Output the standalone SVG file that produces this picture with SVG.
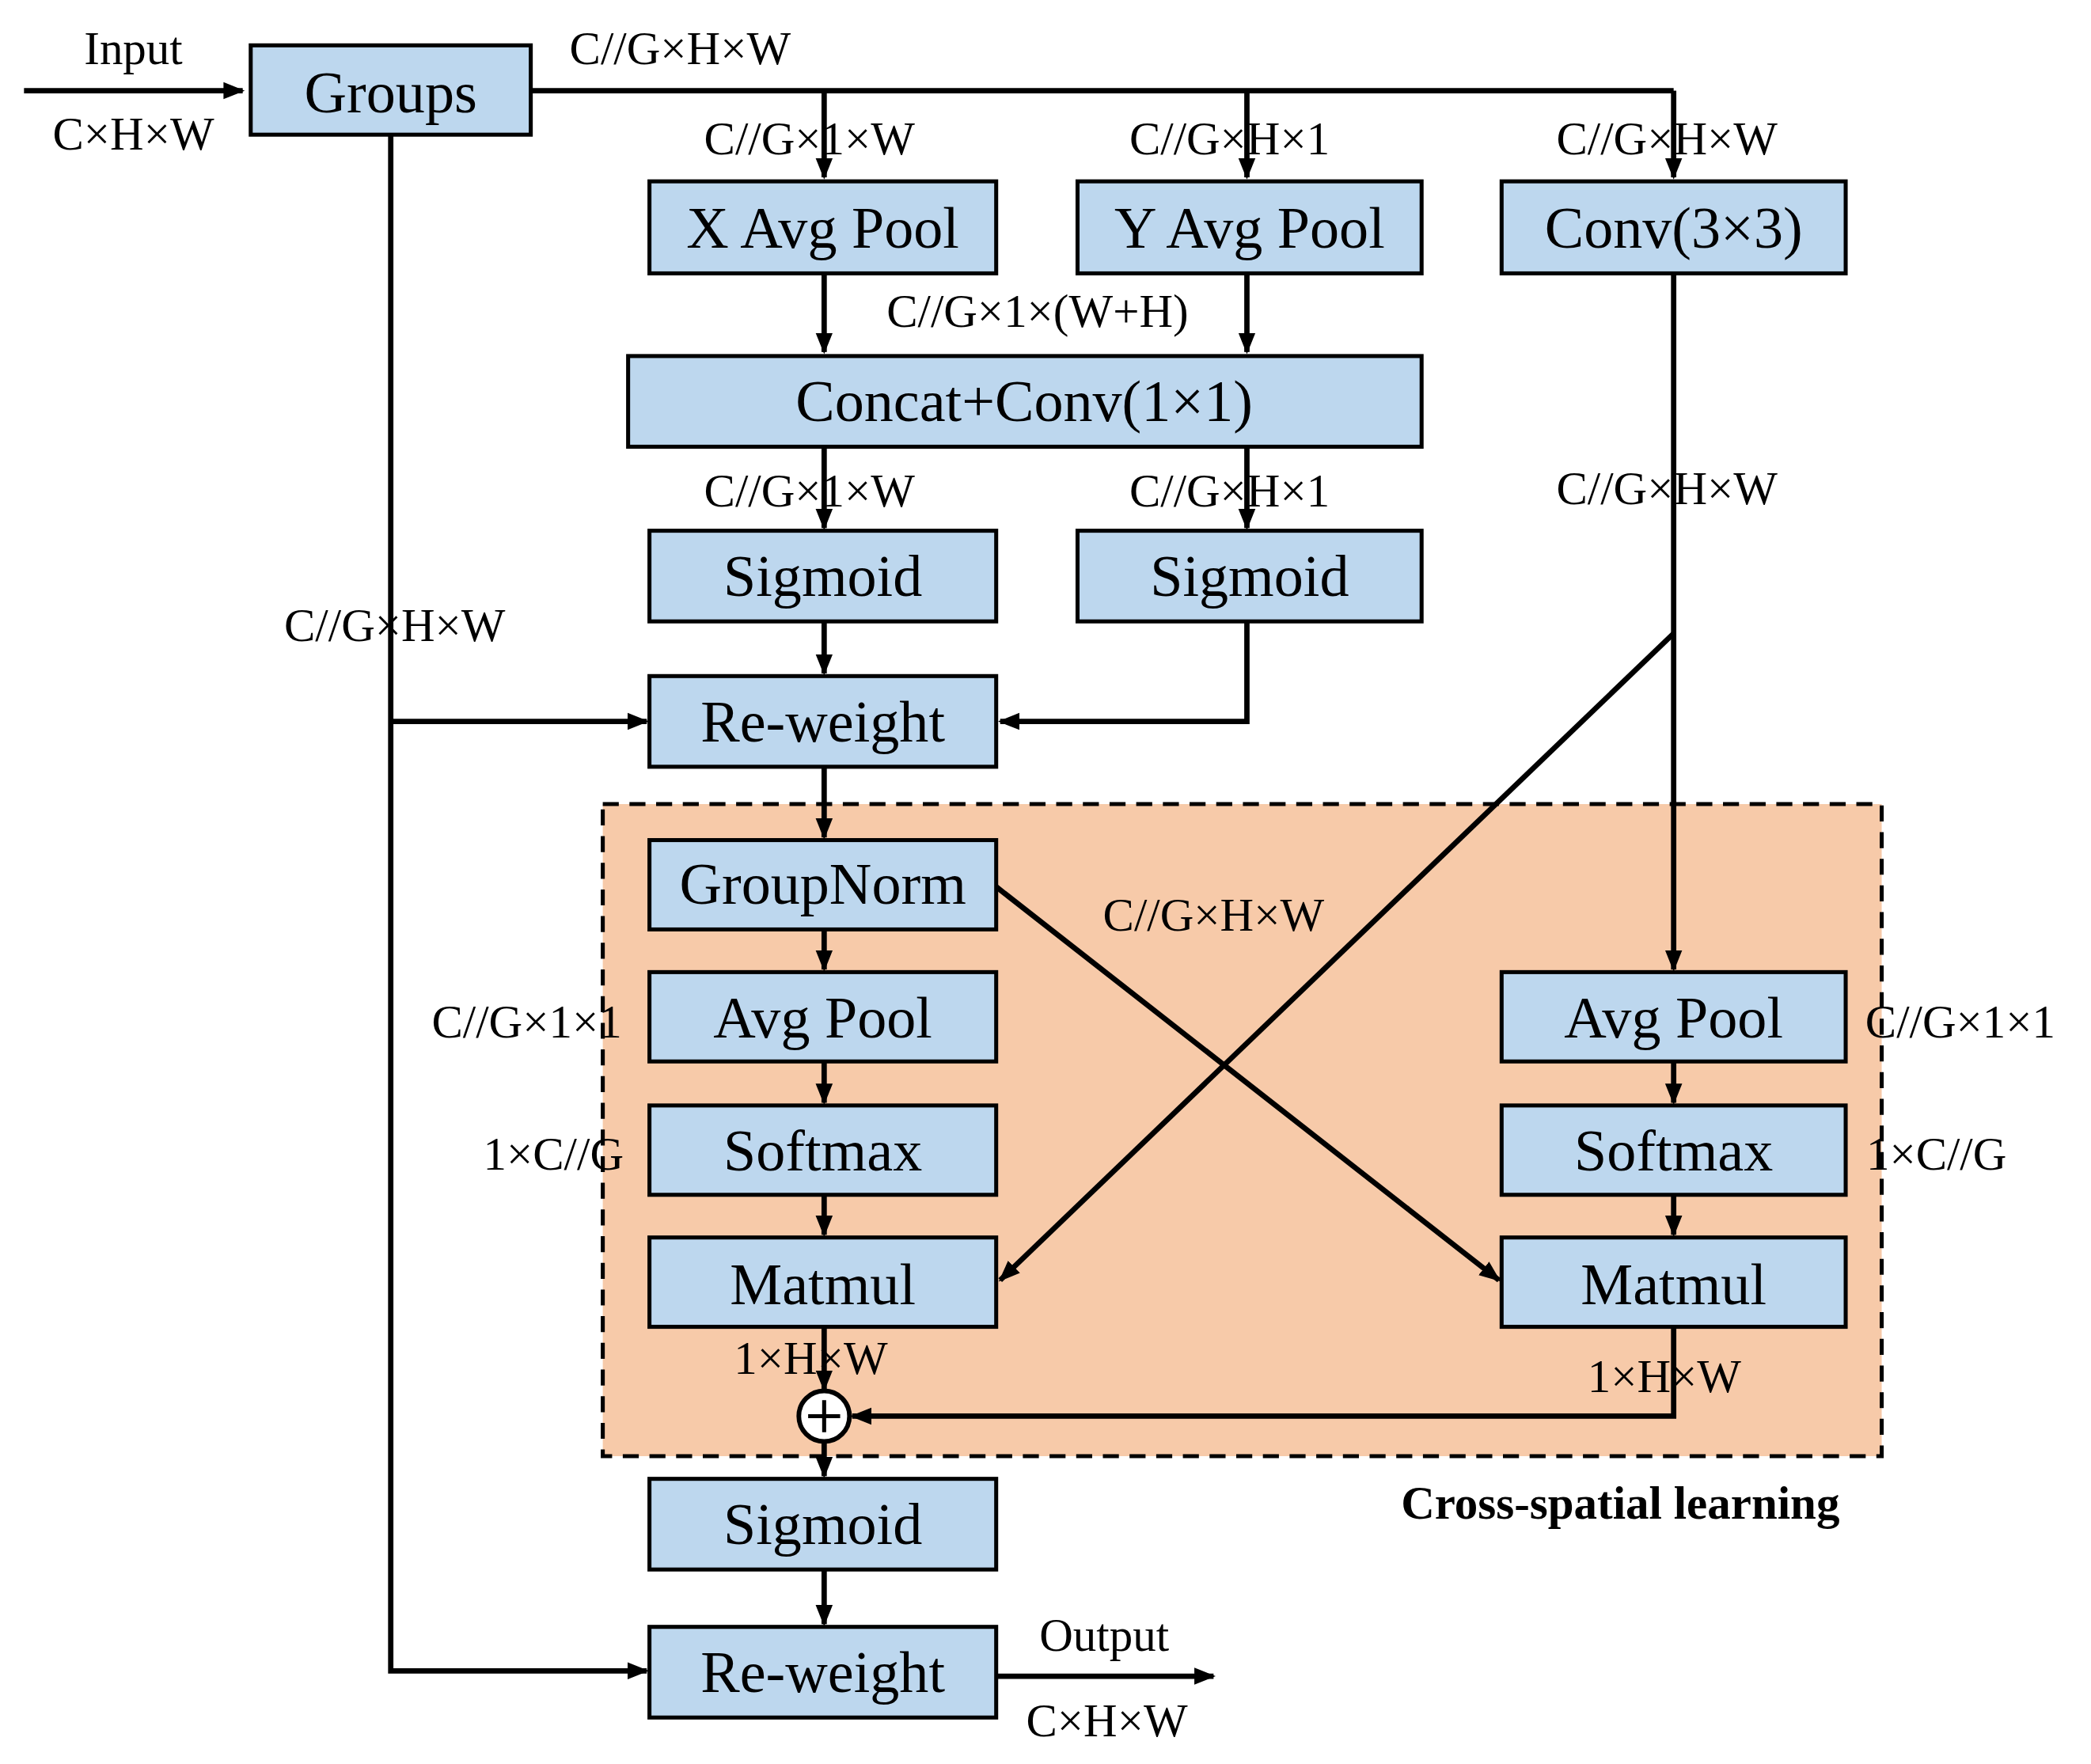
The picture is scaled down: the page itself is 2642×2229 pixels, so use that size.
<svg xmlns="http://www.w3.org/2000/svg" width="2642" height="2229" viewBox="0 0 2642 2229">
<style>
text{font-family:"Liberation Serif","Times New Roman",serif;text-anchor:middle;fill:#000}
.b{fill:#bdd7ee;stroke:#000;stroke-width:3}
.bt{font-size:44px}
.l{font-size:35px}
.c line,.c polyline,.c path{stroke:#000;stroke-width:4;fill:none}
</style>
<defs><marker id="a" viewBox="0 0 10 10" refX="9" refY="5" markerWidth="4" markerHeight="4" orient="auto" markerUnits="strokeWidth"><path d="M0,1L10,5L0,9z" fill="#000"/></marker></defs>
<rect width="2642" height="2229" fill="#fff"/>
<g transform="scale(1.685)">
<rect x="452" y="603" width="959" height="489" fill="#f7caa9" stroke="#000" stroke-width="3" stroke-dasharray="12,8"/>
<g class="c">
<line x1="18" y1="68" x2="182" y2="68" marker-end="url(#a)"/>
<polyline points="398,68 1255,68"/>
<line x1="618" y1="68" x2="618" y2="133" marker-end="url(#a)"/>
<line x1="935" y1="68" x2="935" y2="133" marker-end="url(#a)"/>
<line x1="1255" y1="68" x2="1255" y2="133" marker-end="url(#a)"/>
<line x1="618" y1="205" x2="618" y2="264" marker-end="url(#a)"/>
<line x1="935" y1="205" x2="935" y2="264" marker-end="url(#a)"/>
<line x1="618" y1="335" x2="618" y2="396" marker-end="url(#a)"/>
<line x1="935" y1="335" x2="935" y2="396" marker-end="url(#a)"/>
<line x1="1255" y1="205" x2="1255" y2="727" marker-end="url(#a)"/>
<line x1="1255" y1="475" x2="750" y2="960" marker-end="url(#a)"/>
<polyline points="293,101 293,1253 485,1253" marker-end="url(#a)"/>
<line x1="293" y1="541" x2="485" y2="541" marker-end="url(#a)"/>
<line x1="618" y1="466" x2="618" y2="505" marker-end="url(#a)"/>
<polyline points="935,466 935,541 750,541" marker-end="url(#a)"/>
<line x1="618" y1="575" x2="618" y2="628" marker-end="url(#a)"/>
<line x1="747" y1="665" x2="1124" y2="960" marker-end="url(#a)"/>
<line x1="618" y1="697" x2="618" y2="727" marker-end="url(#a)"/>
<line x1="618" y1="796" x2="618" y2="827" marker-end="url(#a)"/>
<line x1="618" y1="896" x2="618" y2="926" marker-end="url(#a)"/>
<line x1="1255" y1="796" x2="1255" y2="827" marker-end="url(#a)"/>
<line x1="1255" y1="896" x2="1255" y2="926" marker-end="url(#a)"/>
<line x1="618" y1="995" x2="618" y2="1042" marker-end="url(#a)"/>
<polyline points="1255,995 1255,1062 639,1062" marker-end="url(#a)"/>
<line x1="618" y1="1081" x2="618" y2="1107" marker-end="url(#a)"/>
<line x1="618" y1="1177" x2="618" y2="1218" marker-end="url(#a)"/>
<line x1="747" y1="1257" x2="910" y2="1257" marker-end="url(#a)"/>
</g>
<g id="plus"><circle cx="618" cy="1062" r="19" fill="#fff" stroke="#000" stroke-width="3.5"/><path d="M606,1062H630M618,1050V1074" stroke="#000" stroke-width="3"/></g>
<g id="groups"><rect class="b" x="188" y="34" width="210" height="67"/><text class="bt" x="293" y="84">Groups</text></g>
<g id="xavg"><rect class="b" x="487" y="136" width="260" height="69"/><text class="bt" x="617" y="186">X Avg Pool</text></g>
<g id="yavg"><rect class="b" x="808" y="136" width="258" height="69"/><text class="bt" x="937" y="186">Y Avg Pool</text></g>
<g id="conv"><rect class="b" x="1126" y="136" width="258" height="69"/><text class="bt" x="1255" y="186">Conv(3×3)</text></g>
<g id="concat"><rect class="b" x="471" y="267" width="595" height="68"/><text class="bt" x="768" y="316">Concat+Conv(1×1)</text></g>
<g id="sig1"><rect class="b" x="487" y="398" width="260" height="68"/><text class="bt" x="617" y="447">Sigmoid</text></g>
<g id="sig2"><rect class="b" x="808" y="398" width="258" height="68"/><text class="bt" x="937" y="447">Sigmoid</text></g>
<g id="rw1"><rect class="b" x="487" y="507" width="260" height="68"/><text class="bt" x="617" y="556">Re-weight</text></g>
<g id="gn"><rect class="b" x="487" y="630" width="260" height="67"/><text class="bt" x="617" y="678">GroupNorm</text></g>
<g id="ap1"><rect class="b" x="487" y="729" width="260" height="67"/><text class="bt" x="617" y="778">Avg Pool</text></g>
<g id="sm1"><rect class="b" x="487" y="829" width="260" height="67"/><text class="bt" x="617" y="878">Softmax</text></g>
<g id="mm1"><rect class="b" x="487" y="928" width="260" height="67"/><text class="bt" x="617" y="978">Matmul</text></g>
<g id="ap2"><rect class="b" x="1126" y="729" width="258" height="67"/><text class="bt" x="1255" y="778">Avg Pool</text></g>
<g id="sm2"><rect class="b" x="1126" y="829" width="258" height="67"/><text class="bt" x="1255" y="878">Softmax</text></g>
<g id="mm2"><rect class="b" x="1126" y="928" width="258" height="67"/><text class="bt" x="1255" y="978">Matmul</text></g>
<g id="sig3"><rect class="b" x="487" y="1109" width="260" height="68"/><text class="bt" x="617" y="1158">Sigmoid</text></g>
<g id="rw2"><rect class="b" x="487" y="1220" width="260" height="68"/><text class="bt" x="617" y="1269">Re-weight</text></g>
<g class="l">
<text x="100" y="48" class="l">Input</text>
<text x="100" y="112" class="l">C×H×W</text>
<text x="510" y="48" class="l">C//G×H×W</text>
<text x="607" y="116" class="l">C//G×1×W</text>
<text x="922" y="116" class="l">C//G×H×1</text>
<text x="1250" y="116" class="l">C//G×H×W</text>
<text x="778" y="245" class="l">C//G×1×(W+H)</text>
<text x="607" y="380" class="l">C//G×1×W</text>
<text x="922" y="380" class="l">C//G×H×1</text>
<text x="1250" y="378" class="l">C//G×H×W</text>
<text x="296" y="481" class="l">C//G×H×W</text>
<text x="910" y="698" class="l">C//G×H×W</text>
<text x="395" y="778" class="l">C//G×1×1</text>
<text x="1470" y="778" class="l">C//G×1×1</text>
<text x="415" y="877" class="l">1×C//G</text>
<text x="1452" y="877" class="l">1×C//G</text>
<text x="608" y="1030" class="l">1×H×W</text>
<text x="1248" y="1044" class="l">1×H×W</text>
<text x="828" y="1238" class="l">Output</text>
<text x="830" y="1302" class="l">C×H×W</text>
<text x="1215" y="1139" style="font-size:35px;font-weight:bold">Cross-spatial learning</text>
</g>
</g>
</svg>
